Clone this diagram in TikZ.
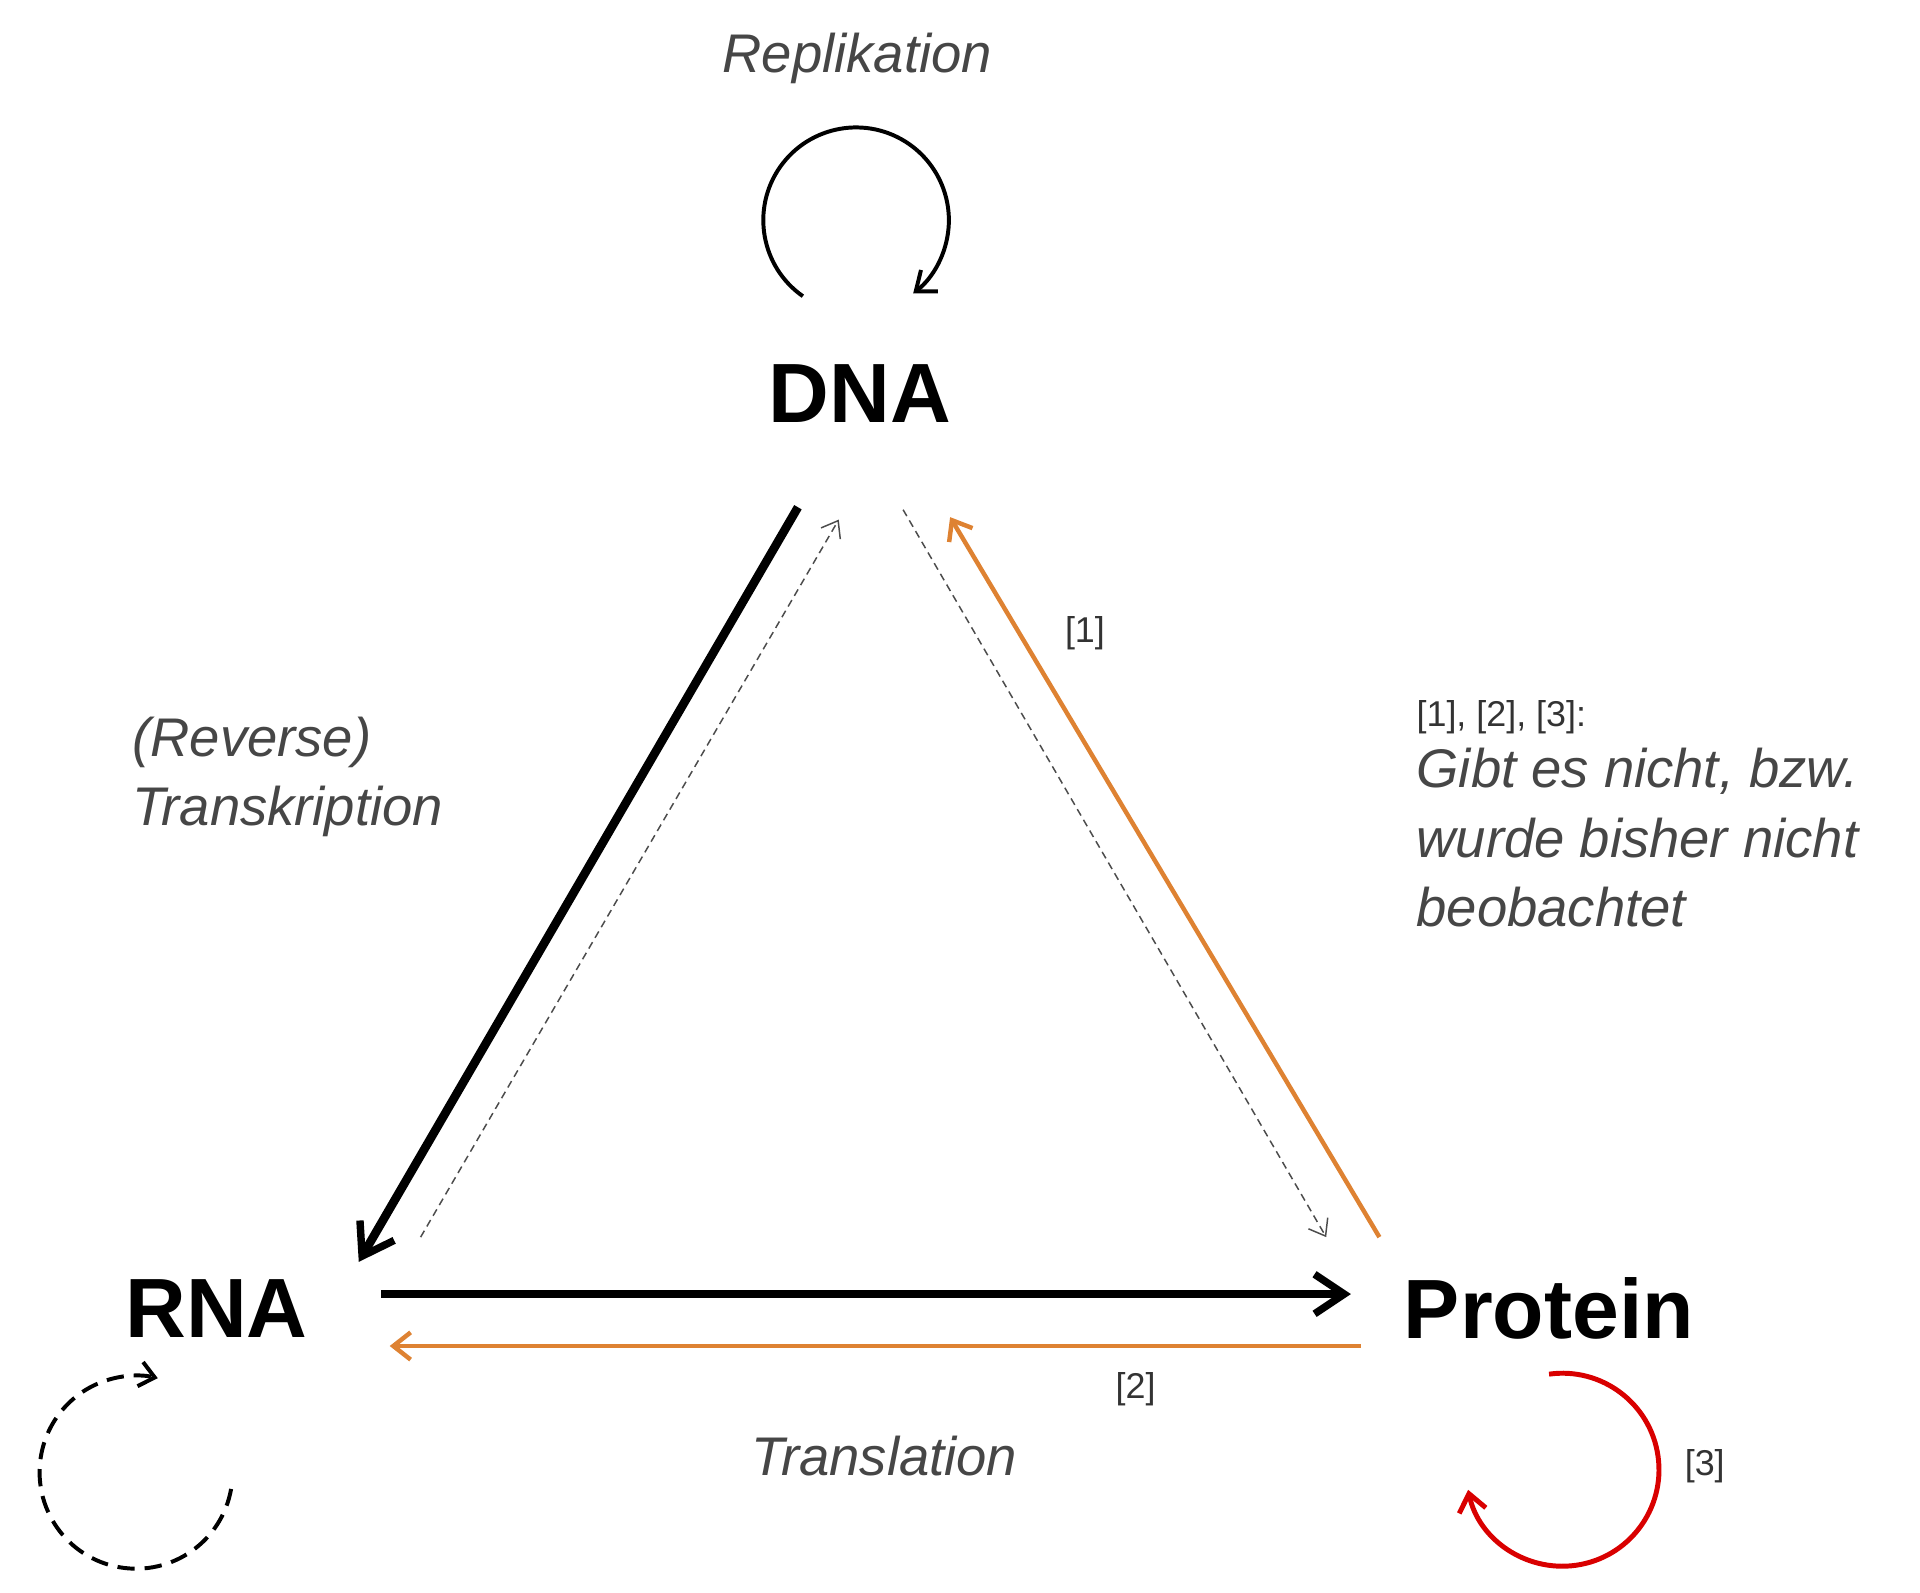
\documentclass[tikz,border=0pt]{standalone}
\usepackage{fontspec}
\setmainfont{Liberation Sans}
\usetikzlibrary{arrows.meta,calc}
\definecolor{orng}{RGB}{222,130,50}
\definecolor{txtgray}{RGB}{70,70,70}
\begin{document}
\begin{tikzpicture}[x=0.5pt,y=-0.5pt,
  mol/.style={font=\fontsize{34}{40}\selectfont\bfseries},
  lbl/.style={font=\fontsize{22}{28}\selectfont\itshape,text=txtgray},
  small/.style={font=\fontsize{14.5}{16}\selectfont,text=black!80},
  thick arr/.style={line width=3.5pt,-{Straight Barb[length=12pt,width=16pt,line width=3pt]}},
  dash arr/.style={line width=0.6pt,dash pattern=on 3pt off 2pt,draw=black!70,-{Straight Barb[length=6pt,width=9pt]}},
  orange arr/.style={line width=1.8pt,draw=orng,-{Straight Barb[length=7pt,width=11pt]}}]
\useasboundingbox (0,0) rectangle (1552,1287);
\node[mol] (dna) at (695,318) {DNA};
\node[mol] (rna) at (175,1058) {RNA};
\node[mol] (prot) at (1252,1058) {Protein};
\node[lbl] (rep) at (693,47) {Replikation};
\node[lbl,align=left,anchor=west] (rt) at (100,628) {(Reverse)\\Transkription};
\node[lbl] (tl) at (715,1177) {Translation};
\node[small,anchor=west] (n123) at (1138,580) {[1], [2], [3]:};
\node[lbl,align=left,anchor=north west] (gibt) at (1138,598) {Gibt es nicht, bzw.\\wurde bisher nicht\\beobachtet};
\node[small] (l1) at (877,512) {[1]};
\node[small] (l2) at (918,1123) {[2]};
\node[small] (l3) at (1378,1185) {[3]};
% edges
\coordinate (a1) at (645,410); \coordinate (a2) at (290,1020);
\draw[thick arr] (a1) -- (a2);
\coordinate (b1) at (340,1000); \coordinate (b2) at (678,420);
\draw[dash arr] (b1) -- (b2);
\coordinate (c1) at (730,412); \coordinate (c2) at (1072,1000);
\draw[dash arr] (c1) -- (c2);
\coordinate (d1) at (1115,1000); \coordinate (d2) at (768,418);
\draw[orange arr] (d1) -- (d2);
\coordinate (e1) at (308,1046); \coordinate (e2) at (1092,1046);
\draw[thick arr] (e1) -- (e2);
\coordinate (f1) at (1100,1088); \coordinate (f2) at (315,1088);
\draw[orange arr] (f1) -- (f2);
% loops
\coordinate (rc) at (692,178);
\draw[line width=1.6pt,-{Straight Barb[length=7pt,width=11pt]}] ($(rc)+(125:75)$) arc[start angle=125,end angle=412,radius=75];
\coordinate (nc) at (110,1190);
\draw[line width=1.6pt,dash pattern=on 7pt off 4pt,-{Straight Barb[length=6pt,width=10pt]}] ($(nc)+(10:78)$) arc[start angle=10,end angle=283,radius=78];
\coordinate (pc) at (1263,1188);
\draw[line width=2pt,red!85!black,-{Straight Barb[length=7pt,width=11pt]}] ($(pc)+(-98:78)$) arc[start angle=-98,end angle=168,radius=78];
\end{tikzpicture}
\end{document}
